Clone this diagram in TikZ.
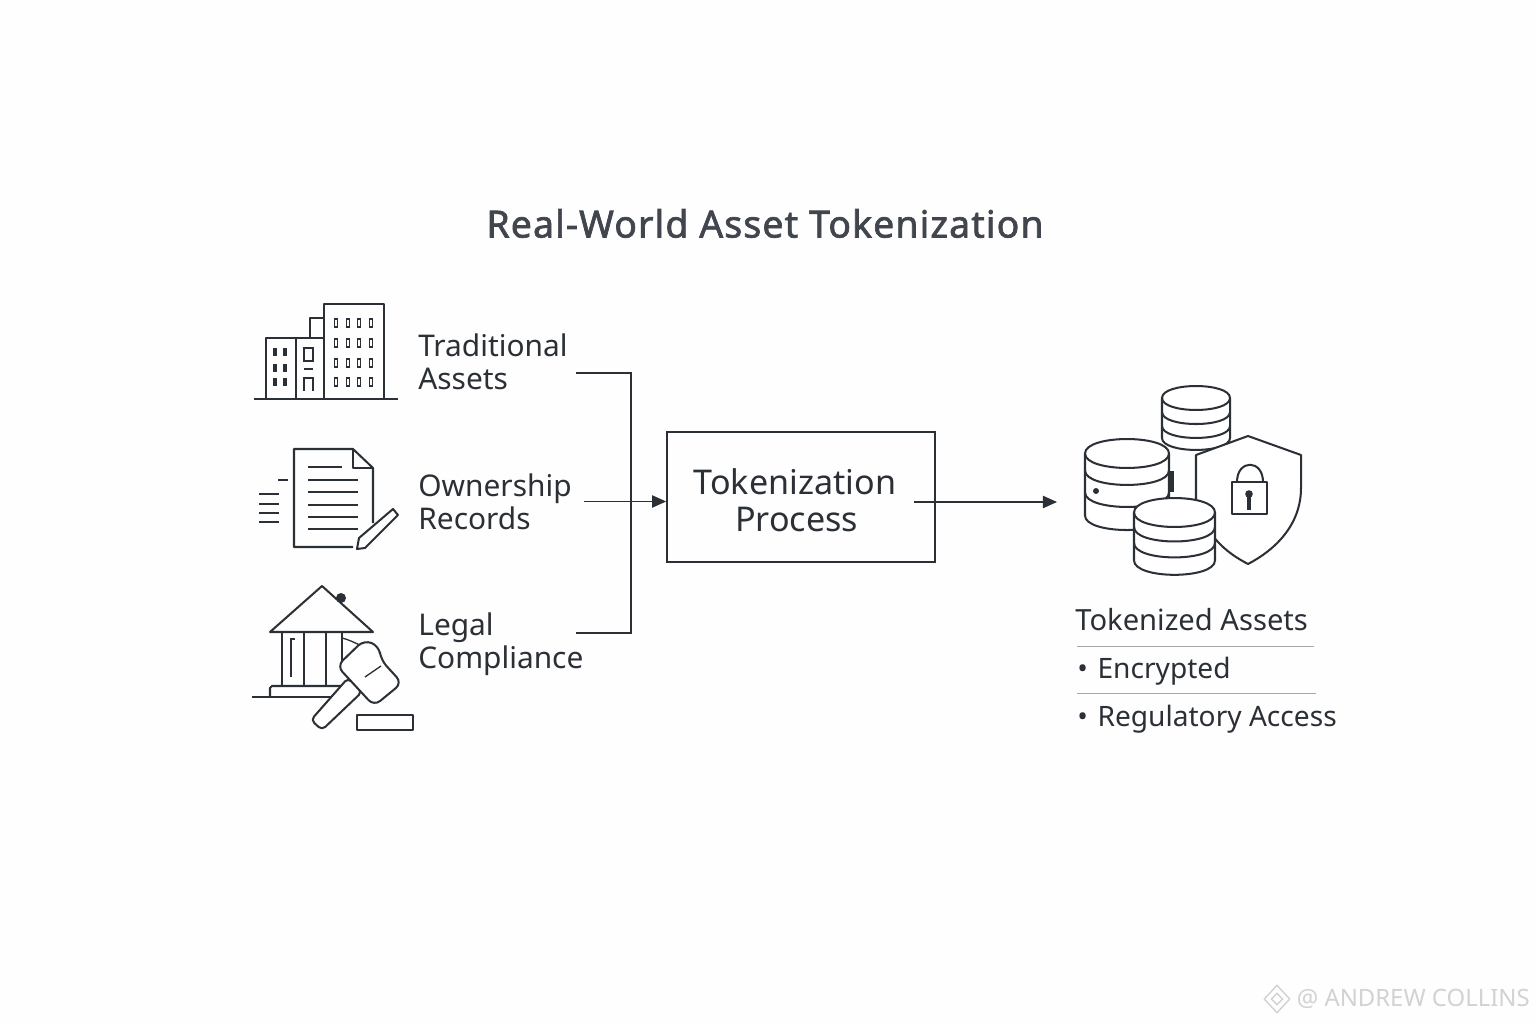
\documentclass[tikz,border=0pt]{standalone}
\usepackage{fontspec}
\usepackage{xcolor}
\setmainfont{Noto Sans}
\newfontfamily\titlefont[FakeBold=1.8,LetterSpace=3]{Noto Sans}
\usetikzlibrary{arrows.meta,positioning,shapes.geometric}
\definecolor{inkc}{HTML}{2B2F36}
\definecolor{titlec}{HTML}{41464E}
\definecolor{sepc}{HTML}{A8A8A8}
\definecolor{markc}{HTML}{D2D2D2}

% one stack of disks: cx, cy, rx, ry, height, band a, band b
\newcommand{\dbstack}[7]{%
  \begin{scope}[shift={(#1,#2)},xscale=#3,yscale=#4]
    \filldraw[icon,fill=white] (-1,0) -- (-1,#5) .. controls (-1,#5+1.33) and (1,#5+1.33) .. (1,#5) -- (1,0)
      .. controls (1,-1.33) and (-1,-1.33) .. (-1,0) -- cycle;
    \draw[icon] (-1,0) .. controls (-1,1.33) and (1,1.33) .. (1,0);
    \draw[icon] (-1,#6) .. controls (-1,#6+1.33) and (1,#6+1.33) .. (1,#6);
    \draw[icon] (-1,#7) .. controls (-1,#7+1.33) and (1,#7+1.33) .. (1,#7);
  \end{scope}}

\begin{document}
\begin{tikzpicture}[
    x=0.02cm, y=-0.02cm,
    icon/.style={draw=inkc, line width=1.15pt, line join=round},
    thin icon/.style={draw=inkc, line width=0.75pt},
    lbl/.style={anchor=west, inner sep=0pt, align=left, text=inkc, font=\fontsize{17}{18.8}\selectfont},
    listlbl/.style={anchor=west, inner sep=0pt, text=inkc, font=\fontsize{16.6}{18}\selectfont},
    procbox/.style={rectangle, draw=inkc, line width=1pt, minimum width=268*0.02cm, minimum height=130*0.02cm},
    conn/.style={draw=inkc, line width=0.75pt},
    arrow/.style={conn, -{Triangle[length=8pt,width=7pt]}},
    sep/.style={draw=sepc, line width=0.55pt}
]
\fill[fill=white!99.5!black] (0,0) rectangle (1536,1024);
\useasboundingbox (0,0) rectangle (1536,1024);

\node[inner sep=0pt, text=titlec, font=\fontsize{21.3}{24}\titlefont] (title) at (765,223.5) {Real-World Asset Tokenization};

% building
\draw[icon] (254,399) -- (398,399);
\draw[icon] (266,399) |- (324,338);
\draw[icon] (296,338) -- (296,399);
\draw[icon] (324,399) |- (384,304) -- (384,399);
\draw[icon] (310,338) |- (324,318);
\foreach \wx in {336,348,359,371}
  \foreach \wy in {323,343,363,382}
    \draw[thin icon] (\wx-1.8,\wy-4) rectangle (\wx+1.8,\wy+4);
\foreach \wx in {275,285}
  \foreach \wy in {352,368,382}
    \draw[thin icon] (\wx-1.1,\wy-3.5) rectangle (\wx+1.1,\wy+3.5);
\draw[thin icon] (304,348) rectangle (313,361);
\draw[icon] (304,369) -- (313,369);
\draw[thin icon] (304,391) |- (313,378) -- (313,391);

% document
\draw[icon] (373,523) -- (373,468) -- (353,449) -| (294,547) -- (353,547);
\draw[icon] (353,449) |- (373,468);
\draw[thin icon] (308,467) -- (342,467);
\foreach \ly in {480,492,505,517,529}
  \draw[thin icon] (308,\ly) -- (358,\ly);
\draw[thin icon] (278,480) -- (288,480);
\foreach \ly in {494,504,513,522}
  \draw[thin icon] (259,\ly) -- (279,\ly);
\draw[icon] (357,549) -- (359,538) -- (393,509) -- (398,515) -- (365,548) -- cycle;

% court and gavel
\draw[icon] (322,586) -- (373,632) -- (270,632) -- cycle;
\fill[inkc] (341,598) circle (5);
\foreach \cx in {282,304,326}
  \draw[icon] (\cx,632) -- (\cx,686);
\draw[icon] (342,632) -- (342,665);
\draw[thin icon] (295,639) -| (291,677);
\draw[icon] (350,686) -- (272,686) -- (270,688) -- (270,697);
\draw[icon] (252,697) -- (337,697);
\draw[thin icon] (342,638) .. controls (350,640) and (355,643) .. (362,646);
\filldraw[icon,fill=white,rounded corners=2.5pt] (348,678) -- (362,692) -- (322,730) -- (311,720) -- cycle;
\filldraw[icon,fill=white,rounded corners=4.5pt] (337,666) -- (364,640) -- (379,646) -- (381,660) -- (402,683) -- (374,706) -- cycle;
\draw[thin icon] (365,677) -- (381,666);
\draw[icon] (357,715) rectangle (413,730);

% labels on the left
\node[lbl] (trad) at (418,362) {Traditional\\Assets};
\node[lbl] (owner) at (418,501.5) {Ownership\\Records};
\node[lbl] (legal) at (418,644) {Legal\\Compliance};

\node[procbox] (proc) at (801,497) {};
\node[inner sep=0pt, align=center, text=inkc, font=\fontsize{19.4}{21}\selectfont] (proctext) at (795,500) {Tokenization\\\hspace{2pt}Process};

% database stacks and shield
\dbstack{1196}{398}{34}{12}{3.33}{1.17}{2.33}
\filldraw[icon,fill=white] (1248,436) -- (1301,455) -- (1301,488)
  .. controls (1301,525) and (1275,550) .. (1248,564)
  .. controls (1225,552) and (1205,535) .. (1196,500) -- (1196,455) -- cycle;
\dbstack{1127}{453.5}{42}{14.5}{4.28}{1.17}{2.69}
\fill[inkc] (1096,491) circle (3);
\fill[inkc] (1169,471) rectangle (1174,492);
\dbstack{1174.5}{512.5}{40.5}{14.5}{3.3}{1}{2.1}
\draw[icon] (1232,482) rectangle (1267,514);
\draw[icon] (1237,482) .. controls (1237,459) and (1263,459) .. (1263,482);
\fill[inkc] (1249,494) circle (3.8);
\draw[inkc, line width=2.2pt] (1249,494) -- (1249,510);

\node[listlbl] (tokhead) at (1075,620) {Tokenized Assets};
\node[listlbl, font=\fontsize{16}{18}\selectfont] (enc) at (1077,671) {•\hspace{5.5pt}Encrypted};
\node[listlbl, font=\fontsize{16}{18}\selectfont] (reg) at (1077,719) {•\hspace{5.5pt}Regulatory Access};
\draw[sep] (1077,646) -- (1314,646);
\draw[sep] (1077,693) -- (1316,693);

% connectors
\coordinate (trunk) at (631,501);
\coordinate (dbin) at (1057,502);
\draw[conn] ([shift={(8,11)}]trad.east) -| (trunk);
\draw[conn] ([shift={(-8,-11)}]legal.east) -| (trunk);
\draw[arrow] ([shift={(12,0)}]owner.east) -- (proc.west |- owner.east);
\draw[arrow] ([shift={(-22,0)}]proc.east |- dbin) -- (dbin);

% watermark
\node[inner sep=0pt, anchor=east, text=markc, font=\fontsize{13.6}{16}\selectfont] (mark) at (1530,999) {@ ANDREW COLLINS};
\node[diamond, draw=markc, line width=0.8pt, minimum width=26*0.02cm, minimum height=28*0.02cm, inner sep=0pt] (logo) at (1277,999) {};
\node[diamond, draw=markc, line width=0.8pt, minimum width=12*0.02cm, minimum height=12*0.02cm, inner sep=0pt] (logoin) at (logo) {};
\end{tikzpicture}
\end{document}
